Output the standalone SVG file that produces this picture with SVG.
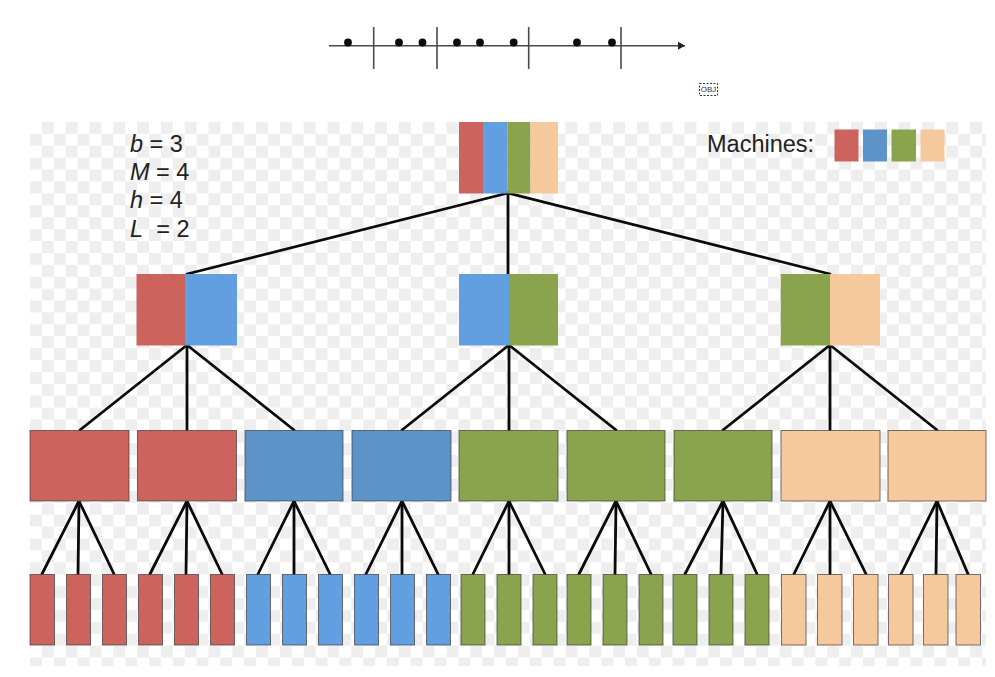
<svg xmlns="http://www.w3.org/2000/svg" width="995" height="677" viewBox="0 0 995 677">
<style>
.r{fill:#cc635c}.b{fill:#629fe0}.bd{fill:#5c93c9}.g{fill:#8aa44d}.p{fill:#f6c99d}
.n rect{stroke:#3c3c3c;stroke-opacity:.7;stroke-width:1}
.s rect{stroke:none}
#connectors line{stroke:#0a0a0a;stroke-width:2.8;stroke-linecap:round}
#numberline line{stroke:#4a4a4a;stroke-width:1.6}
#numberline circle{fill:#0c0c0c}
.t{font-family:"Liberation Sans",Arial,sans-serif;font-size:23.5px;fill:#222;white-space:pre}
.i{font-style:italic}
</style>
<defs>
<pattern id="check" patternUnits="userSpaceOnUse" x="30" y="122" width="23.8" height="23.8">
<rect width="23.8" height="23.8" fill="#fff"/>
<rect x="11.9" y="0" width="11.9" height="11.9" fill="#eeeeee"/>
<rect x="0" y="11.9" width="11.9" height="11.9" fill="#eeeeee"/>
</pattern>
<marker id="arrow" markerUnits="userSpaceOnUse" markerWidth="8" markerHeight="9" refX="7" refY="4.5" orient="auto"><path d="M0 0.5L7 4.5L0 8.5Z" fill="#222"/></marker>
</defs>
<rect x="30" y="122" width="956" height="544" fill="url(#check)"/>

<g id="numberline">
<line x1="329" y1="45.7" x2="685" y2="45.7" marker-end="url(#arrow)"/>
<line x1="373.7" y1="27" x2="373.7" y2="69"/>
<line x1="437" y1="27" x2="437" y2="69"/>
<line x1="528.7" y1="27" x2="528.7" y2="69"/>
<line x1="621" y1="27" x2="621" y2="69"/>
<circle cx="348" cy="42.5" r="3.9"/><circle cx="399" cy="42.5" r="3.9"/><circle cx="422.5" cy="42.5" r="3.9"/><circle cx="457" cy="42.5" r="3.9"/><circle cx="480" cy="42.5" r="3.9"/><circle cx="513.7" cy="42.5" r="3.9"/><circle cx="577" cy="42.5" r="3.9"/><circle cx="612" cy="42.5" r="3.9"/>
</g>
<g id="obj-badge">
<rect x="699.5" y="83.5" width="18" height="12" fill="#fff" stroke="#333" stroke-width="1" stroke-dasharray="2 1.5"/>
<text x="708.5" y="92.3" text-anchor="middle" font-family="Liberation Sans,sans-serif" font-size="8" fill="#334">OBJ</text>
</g>

<g id="params">
<text class="t" x="130" y="152"><tspan class="i">b</tspan> = 3</text>
<text class="t" x="130" y="180"><tspan class="i">M</tspan> = 4</text>
<text class="t" x="130" y="208"><tspan class="i">h</tspan> = 4</text>
<text class="t" x="130" y="236.5"><tspan class="i">L</tspan>  = 2</text>
</g>
<g id="legend" class="s">
<text class="t" x="707" y="152">Machines:</text>
<rect class="r" x="834.5" y="129.5" width="24" height="32"/>
<rect class="bd" x="863" y="129.5" width="24" height="32"/>
<rect class="g" x="891.5" y="129.5" width="24.5" height="32"/>
<rect class="p" x="920.5" y="129.5" width="24" height="32"/>
</g>

<g id="connectors">
<line x1="508" y1="193" x2="187" y2="274"/><line x1="508" y1="193" x2="508" y2="274"/><line x1="508" y1="193" x2="830" y2="274"/>
<line x1="187" y1="345" x2="80" y2="430"/><line x1="187" y1="345" x2="187" y2="430"/><line x1="187" y1="345" x2="294" y2="430"/>
<line x1="509" y1="345" x2="402" y2="430"/><line x1="509" y1="345" x2="509" y2="430"/><line x1="509" y1="345" x2="616" y2="430"/>
<line x1="830" y1="345" x2="723" y2="430"/><line x1="830" y1="345" x2="830" y2="430"/><line x1="830" y1="345" x2="937" y2="430"/>
<line x1="79" y1="501" x2="42" y2="574"/><line x1="79" y1="501" x2="78" y2="574"/><line x1="79" y1="501" x2="114" y2="574"/>
<line x1="187" y1="501" x2="150" y2="574"/><line x1="187" y1="501" x2="186" y2="574"/><line x1="187" y1="501" x2="222" y2="574"/>
<line x1="294" y1="501" x2="258" y2="574"/><line x1="294" y1="501" x2="294" y2="574"/><line x1="294" y1="501" x2="330" y2="574"/>
<line x1="402" y1="501" x2="366" y2="574"/><line x1="402" y1="501" x2="402" y2="574"/><line x1="402" y1="501" x2="438" y2="574"/>
<line x1="509" y1="501" x2="473" y2="574"/><line x1="509" y1="501" x2="509" y2="574"/><line x1="509" y1="501" x2="545" y2="574"/>
<line x1="616" y1="501" x2="579" y2="574"/><line x1="616" y1="501" x2="615" y2="574"/><line x1="616" y1="501" x2="651" y2="574"/>
<line x1="723" y1="501" x2="685" y2="574"/><line x1="723" y1="501" x2="721" y2="574"/><line x1="723" y1="501" x2="757" y2="574"/>
<line x1="830" y1="501" x2="794" y2="574"/><line x1="830" y1="501" x2="830" y2="574"/><line x1="830" y1="501" x2="866" y2="574"/>
<line x1="937" y1="501" x2="901" y2="574"/><line x1="937" y1="501" x2="936" y2="574"/><line x1="937" y1="501" x2="968" y2="574"/>
</g>

<g id="root" class="s">
<rect class="r" x="459" y="122" width="24" height="71.5"/><rect class="b" x="483" y="122" width="24.5" height="71.5"/><rect class="g" x="507.5" y="122" width="23" height="71.5"/><rect class="p" x="530.5" y="122" width="27.5" height="71.5"/>
</g>

<g id="l2-1" class="s"><rect class="r" x="136.5" y="274" width="49" height="71.5"/><rect class="b" x="185" y="274" width="52" height="71.5"/></g>
<g id="l2-2" class="s"><rect class="b" x="459" y="274" width="50" height="71.5"/><rect class="g" x="509" y="274" width="49" height="71.5"/></g>
<g id="l2-3" class="s"><rect class="g" x="780.7" y="274" width="49.5" height="71.5"/><rect class="p" x="830" y="274" width="50" height="71.5"/></g>

<g id="l3-1" class="n"><rect class="r" x="30" y="430.5" width="99" height="70.5"/></g>
<g id="l3-2" class="n"><rect class="r" x="137.5" y="430.5" width="99" height="70.5"/></g>
<g id="l3-3" class="n"><rect class="bd" x="245" y="430.5" width="98" height="70.5"/></g>
<g id="l3-4" class="n"><rect class="bd" x="352" y="430.5" width="99" height="70.5"/></g>
<g id="l3-5" class="n"><rect class="g" x="459" y="430.5" width="99" height="70.5"/></g>
<g id="l3-6" class="n"><rect class="g" x="567" y="430.5" width="98" height="70.5"/></g>
<g id="l3-7" class="n"><rect class="g" x="674" y="430.5" width="98" height="70.5"/></g>
<g id="l3-8" class="n"><rect class="p" x="781" y="430.5" width="99" height="70.5"/></g>
<g id="l3-9" class="n"><rect class="p" x="888" y="430.5" width="98" height="70.5"/></g>

<g id="l4-1" class="n"><rect class="r" x="30" y="574.5" width="24.5" height="70.5"/></g>
<g id="l4-2" class="n"><rect class="r" x="66.5" y="574.5" width="24" height="70.5"/></g>
<g id="l4-3" class="n"><rect class="r" x="102.5" y="574.5" width="24" height="70.5"/></g>
<g id="l4-4" class="n"><rect class="r" x="138.5" y="574.5" width="24" height="70.5"/></g>
<g id="l4-5" class="n"><rect class="r" x="174.5" y="574.5" width="24" height="70.5"/></g>
<g id="l4-6" class="n"><rect class="r" x="210.5" y="574.5" width="24" height="70.5"/></g>
<g id="l4-7" class="n"><rect class="b" x="246.5" y="574.5" width="24" height="70.5"/></g>
<g id="l4-8" class="n"><rect class="b" x="282.5" y="574.5" width="24" height="70.5"/></g>
<g id="l4-9" class="n"><rect class="b" x="318.5" y="574.5" width="24" height="70.5"/></g>
<g id="l4-10" class="n"><rect class="b" x="354.5" y="574.5" width="24" height="70.5"/></g>
<g id="l4-11" class="n"><rect class="b" x="390.5" y="574.5" width="24" height="70.5"/></g>
<g id="l4-12" class="n"><rect class="b" x="426.5" y="574.5" width="24" height="70.5"/></g>
<g id="l4-13" class="n"><rect class="g" x="461" y="574.5" width="24" height="70.5"/></g>
<g id="l4-14" class="n"><rect class="g" x="497" y="574.5" width="24" height="70.5"/></g>
<g id="l4-15" class="n"><rect class="g" x="533" y="574.5" width="24" height="70.5"/></g>
<g id="l4-16" class="n"><rect class="g" x="567" y="574.5" width="24" height="70.5"/></g>
<g id="l4-17" class="n"><rect class="g" x="603" y="574.5" width="24" height="70.5"/></g>
<g id="l4-18" class="n"><rect class="g" x="639" y="574.5" width="24" height="70.5"/></g>
<g id="l4-19" class="n"><rect class="g" x="673" y="574.5" width="24" height="70.5"/></g>
<g id="l4-20" class="n"><rect class="g" x="709" y="574.5" width="24" height="70.5"/></g>
<g id="l4-21" class="n"><rect class="g" x="745" y="574.5" width="24" height="70.5"/></g>
<g id="l4-22" class="n"><rect class="p" x="781.5" y="574.5" width="24.5" height="70.5"/></g>
<g id="l4-23" class="n"><rect class="p" x="817.5" y="574.5" width="24.5" height="70.5"/></g>
<g id="l4-24" class="n"><rect class="p" x="853.5" y="574.5" width="24.5" height="70.5"/></g>
<g id="l4-25" class="n"><rect class="p" x="888.5" y="574.5" width="24.5" height="70.5"/></g>
<g id="l4-26" class="n"><rect class="p" x="923.5" y="574.5" width="24.5" height="70.5"/></g>
<g id="l4-27" class="n"><rect class="p" x="956" y="574.5" width="24.5" height="70.5"/></g>
</svg>
